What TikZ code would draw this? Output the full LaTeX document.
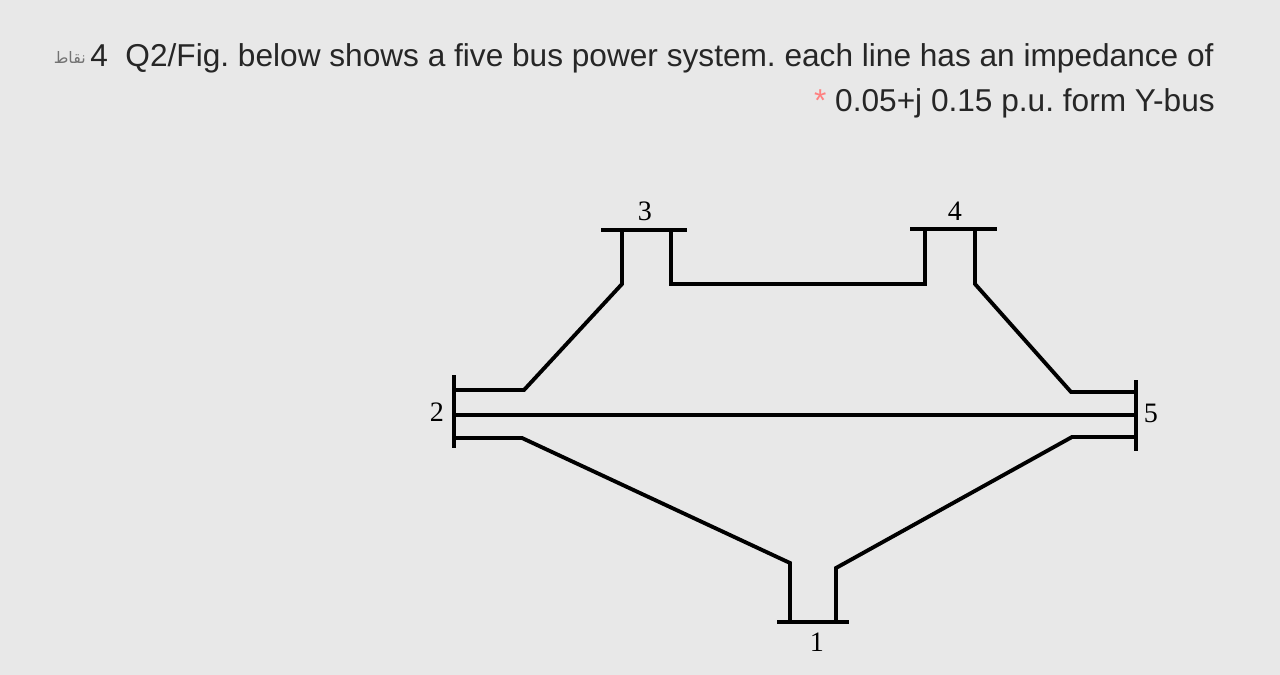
\documentclass[tikz,border=0pt]{standalone}
\usepackage{fontspec}
\setmainfont{Liberation Serif}
\newfontfamily\uisans{Liberation Sans}
\newfontfamily\arabicfont[Script=Arabic]{DejaVu Sans}
\TeXXeTstate=1
\frenchspacing
\begin{document}
\begin{tikzpicture}[x=0.02cm,y=-0.02cm,
  bus/.style={line width=2.4pt},
  ln/.style={line width=2.2pt,line join=miter},
  lab/.style={font=\fontsize{16}{18}\selectfont,inner sep=0pt},
  txt/.style={font=\uisans\fontsize{18}{20}\selectfont,inner sep=0pt,text=black!85}]
\fill[gray!18] (0,0) rectangle (1280,675);
\useasboundingbox (0,0) rectangle (1280,675);
% header
\node[inner sep=0pt,anchor=base east,text=black!55,font=\arabicfont\fontsize{9}{10}\selectfont] (ar) at (86,64) {\beginR نقاط\endR};
\node[txt,anchor=base west] (t1) at (90,67) {4\ \ Q2/Fig. below shows a five bus power system. each line has an impedance of};
\node[txt,anchor=base east] (t2) at (1215,112) {{\color{red!50}*} 0.05+j 0.15 p.u. form Y-bus};
% buses
\coordinate (b2a) at (454,375); \coordinate (b2b) at (454,448);
\coordinate (b5a) at (1136,380); \coordinate (b5b) at (1136,451);
\coordinate (b3a) at (601,230); \coordinate (b3b) at (687,230);
\coordinate (b4a) at (910,229); \coordinate (b4b) at (997,229);
\coordinate (b1a) at (777,622); \coordinate (b1b) at (849,622);
\draw[bus] (b2a) -- (b2b);
\draw[bus] (b5a) -- (b5b);
\draw[bus] (b3a) -- (b3b);
\draw[bus] (b4a) -- (b4b);
\draw[bus] (b1a) -- (b1b);
\node[lab] (l2) at (437,412) {2};
\node[lab] (l5) at (1151,413) {5};
\node[lab] (l3) at (645,211) {3};
\node[lab] (l4) at (955,211) {4};
\node[lab] (l1) at (817,642) {1};
% lines
\draw[ln] (454,390) -- (524,390) -- (622,284) -- (622,230);
\draw[ln] (671,230) -- (671,284) -- (925,284) -- (925,229);
\draw[ln] (975,229) -- (975,284) -- (1071,392) -- (1136,392);
\draw[ln] (454,415) -- (1136,415);
\draw[ln] (454,438) -- (522,438) -- (790,563) -- (790,622);
\draw[ln] (836,622) -- (836,568) -- (1072,437) -- (1136,437);
\end{tikzpicture}
\end{document}
